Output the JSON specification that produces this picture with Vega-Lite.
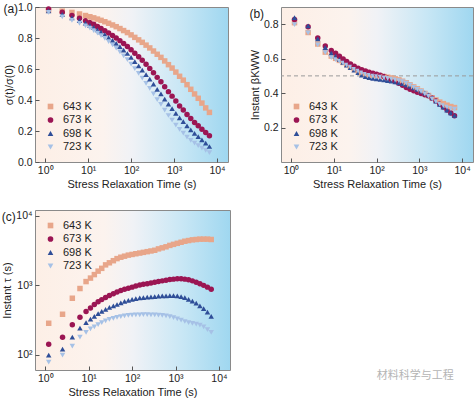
{
  "$schema": "https://vega.github.io/schema/vega-lite/v6.json",
  "padding": {"left": 1, "top": 1, "right": 0, "bottom": 0},
  "datasets": {
    "relax": [
      {"t": 1.2, "643 K": 0.98, "673 K": 0.987, "698 K": 0.975, "723 K": 0.966},
      {"t": 2.5, "643 K": 0.973, "673 K": 0.966, "698 K": 0.952, "723 K": 0.936},
      {"t": 4.2, "643 K": 0.965, "673 K": 0.946, "698 K": 0.93, "723 K": 0.914},
      {"t": 6.3, "643 K": 0.955, "673 K": 0.928, "698 K": 0.912, "723 K": 0.895},
      {"t": 8.7, "643 K": 0.945, "673 K": 0.912, "698 K": 0.896, "723 K": 0.878},
      {"t": 11, "643 K": 0.937, "673 K": 0.9, "698 K": 0.882, "723 K": 0.864},
      {"t": 13.5, "643 K": 0.93, "673 K": 0.888, "698 K": 0.868, "723 K": 0.848},
      {"t": 16.5, "643 K": 0.922, "673 K": 0.875, "698 K": 0.853, "723 K": 0.832},
      {"t": 20, "643 K": 0.914, "673 K": 0.862, "698 K": 0.838, "723 K": 0.816},
      {"t": 24.5, "643 K": 0.905, "673 K": 0.847, "698 K": 0.821, "723 K": 0.797},
      {"t": 30, "643 K": 0.895, "673 K": 0.832, "698 K": 0.803, "723 K": 0.777},
      {"t": 37, "643 K": 0.884, "673 K": 0.816, "698 K": 0.784, "723 K": 0.755},
      {"t": 45, "643 K": 0.873, "673 K": 0.8, "698 K": 0.765, "723 K": 0.734},
      {"t": 55, "643 K": 0.861, "673 K": 0.783, "698 K": 0.744, "723 K": 0.71},
      {"t": 67, "643 K": 0.848, "673 K": 0.764, "698 K": 0.722, "723 K": 0.685},
      {"t": 82, "643 K": 0.835, "673 K": 0.745, "698 K": 0.7, "723 K": 0.66},
      {"t": 100, "643 K": 0.82, "673 K": 0.724, "698 K": 0.675, "723 K": 0.632},
      {"t": 122, "643 K": 0.804, "673 K": 0.702, "698 K": 0.648, "723 K": 0.602},
      {"t": 150, "643 K": 0.788, "673 K": 0.679, "698 K": 0.62, "723 K": 0.571},
      {"t": 182, "643 K": 0.772, "673 K": 0.656, "698 K": 0.593, "723 K": 0.541},
      {"t": 223, "643 K": 0.754, "673 K": 0.63, "698 K": 0.563, "723 K": 0.507},
      {"t": 272, "643 K": 0.736, "673 K": 0.604, "698 K": 0.534, "723 K": 0.475},
      {"t": 332, "643 K": 0.716, "673 K": 0.576, "698 K": 0.502, "723 K": 0.44},
      {"t": 405, "643 K": 0.695, "673 K": 0.546, "698 K": 0.469, "723 K": 0.403},
      {"t": 495, "643 K": 0.675, "673 K": 0.518, "698 K": 0.44, "723 K": 0.371},
      {"t": 605, "643 K": 0.652, "673 K": 0.486, "698 K": 0.406, "723 K": 0.335},
      {"t": 740, "643 K": 0.628, "673 K": 0.454, "698 K": 0.373, "723 K": 0.3},
      {"t": 900, "643 K": 0.606, "673 K": 0.425, "698 K": 0.345, "723 K": 0.27},
      {"t": 1100, "643 K": 0.58, "673 K": 0.393, "698 K": 0.314, "723 K": 0.238},
      {"t": 1345, "643 K": 0.553, "673 K": 0.362, "698 K": 0.285, "723 K": 0.21},
      {"t": 1640, "643 K": 0.528, "673 K": 0.336, "698 K": 0.26, "723 K": 0.186},
      {"t": 2000, "643 K": 0.499, "673 K": 0.307, "698 K": 0.233, "723 K": 0.161},
      {"t": 2450, "643 K": 0.469, "673 K": 0.28, "698 K": 0.208, "723 K": 0.14},
      {"t": 3000, "643 K": 0.439, "673 K": 0.255, "698 K": 0.184, "723 K": 0.121},
      {"t": 3650, "643 K": 0.411, "673 K": 0.234, "698 K": 0.163, "723 K": 0.105},
      {"t": 4450, "643 K": 0.38, "673 K": 0.212, "698 K": 0.142, "723 K": 0.089},
      {"t": 5450, "643 K": 0.349, "673 K": 0.19, "698 K": 0.122, "723 K": 0.075},
      {"t": 6650, "643 K": 0.32, "673 K": 0.17, "698 K": 0.1, "723 K": 0.06}
    ],
    "beta": [
      {"t": 1.2, "643 K": 0.809, "673 K": 0.827, "698 K": 0.839, "723 K": 0.797},
      {"t": 2.5, "643 K": 0.752, "673 K": 0.785, "698 K": 0.79, "723 K": 0.75},
      {"t": 4.2, "643 K": 0.685, "673 K": 0.72, "698 K": 0.715, "723 K": 0.68},
      {"t": 6.3, "643 K": 0.638, "673 K": 0.674, "698 K": 0.664, "723 K": 0.635},
      {"t": 8.7, "643 K": 0.615, "673 K": 0.648, "698 K": 0.632, "723 K": 0.606},
      {"t": 11, "643 K": 0.602, "673 K": 0.632, "698 K": 0.615, "723 K": 0.594},
      {"t": 13.5, "643 K": 0.59, "673 K": 0.614, "698 K": 0.596, "723 K": 0.585},
      {"t": 16.5, "643 K": 0.578, "673 K": 0.598, "698 K": 0.578, "723 K": 0.574},
      {"t": 20, "643 K": 0.566, "673 K": 0.583, "698 K": 0.563, "723 K": 0.563},
      {"t": 24.5, "643 K": 0.553, "673 K": 0.569, "698 K": 0.548, "723 K": 0.551},
      {"t": 30, "643 K": 0.541, "673 K": 0.556, "698 K": 0.534, "723 K": 0.538},
      {"t": 37, "643 K": 0.53, "673 K": 0.545, "698 K": 0.519, "723 K": 0.527},
      {"t": 45, "643 K": 0.52, "673 K": 0.536, "698 K": 0.505, "723 K": 0.517},
      {"t": 55, "643 K": 0.513, "673 K": 0.528, "698 K": 0.496, "723 K": 0.509},
      {"t": 67, "643 K": 0.508, "673 K": 0.521, "698 K": 0.49, "723 K": 0.503},
      {"t": 82, "643 K": 0.505, "673 K": 0.515, "698 K": 0.486, "723 K": 0.499},
      {"t": 100, "643 K": 0.503, "673 K": 0.51, "698 K": 0.483, "723 K": 0.496},
      {"t": 122, "643 K": 0.5, "673 K": 0.504, "698 K": 0.48, "723 K": 0.493},
      {"t": 150, "643 K": 0.496, "673 K": 0.496, "698 K": 0.477, "723 K": 0.489},
      {"t": 182, "643 K": 0.492, "673 K": 0.487, "698 K": 0.473, "723 K": 0.485},
      {"t": 223, "643 K": 0.488, "673 K": 0.478, "698 K": 0.469, "723 K": 0.481},
      {"t": 272, "643 K": 0.483, "673 K": 0.468, "698 K": 0.465, "723 K": 0.477},
      {"t": 332, "643 K": 0.477, "673 K": 0.457, "698 K": 0.46, "723 K": 0.472},
      {"t": 405, "643 K": 0.469, "673 K": 0.445, "698 K": 0.455, "723 K": 0.466},
      {"t": 495, "643 K": 0.46, "673 K": 0.433, "698 K": 0.448, "723 K": 0.458},
      {"t": 605, "643 K": 0.448, "673 K": 0.422, "698 K": 0.44, "723 K": 0.447},
      {"t": 740, "643 K": 0.436, "673 K": 0.413, "698 K": 0.431, "723 K": 0.434},
      {"t": 900, "643 K": 0.425, "673 K": 0.405, "698 K": 0.422, "723 K": 0.422},
      {"t": 1100, "643 K": 0.412, "673 K": 0.398, "698 K": 0.412, "723 K": 0.41},
      {"t": 1345, "643 K": 0.398, "673 K": 0.391, "698 K": 0.401, "723 K": 0.396},
      {"t": 1640, "643 K": 0.386, "673 K": 0.384, "698 K": 0.39, "723 K": 0.382},
      {"t": 2000, "643 K": 0.373, "673 K": 0.37, "698 K": 0.373, "723 K": 0.366},
      {"t": 2450, "643 K": 0.36, "673 K": 0.354, "698 K": 0.354, "723 K": 0.35},
      {"t": 3000, "643 K": 0.348, "673 K": 0.337, "698 K": 0.335, "723 K": 0.336},
      {"t": 3650, "643 K": 0.339, "673 K": 0.32, "698 K": 0.318, "723 K": 0.327},
      {"t": 4450, "643 K": 0.33, "673 K": 0.302, "698 K": 0.301, "723 K": 0.319},
      {"t": 5450, "643 K": 0.322, "673 K": 0.285, "698 K": 0.285, "723 K": 0.312},
      {"t": 6650, "643 K": 0.316, "673 K": 0.268, "698 K": 0.27, "723 K": 0.307}
    ],
    "tau": [
      {"t": 1.2, "643 K": 282, "673 K": 141, "698 K": 98, "723 K": 78},
      {"t": 2.5, "643 K": 380, "673 K": 178, "698 K": 120, "723 K": 98},
      {"t": 4.2, "643 K": 646, "673 K": 269, "698 K": 178, "723 K": 132},
      {"t": 6.3, "643 K": 891, "673 K": 343, "698 K": 240, "723 K": 178},
      {"t": 8.7, "643 K": 1122, "673 K": 417, "698 K": 288, "723 K": 209},
      {"t": 11, "643 K": 1259, "673 K": 468, "698 K": 324, "723 K": 234},
      {"t": 13.5, "643 K": 1413, "673 K": 525, "698 K": 355, "723 K": 251},
      {"t": 16.5, "643 K": 1585, "673 K": 575, "698 K": 389, "723 K": 269},
      {"t": 20, "643 K": 1738, "673 K": 617, "698 K": 417, "723 K": 288},
      {"t": 24.5, "643 K": 1950, "673 K": 661, "698 K": 447, "723 K": 305},
      {"t": 30, "643 K": 2089, "673 K": 708, "698 K": 479, "723 K": 320},
      {"t": 37, "643 K": 2239, "673 K": 750, "698 K": 501, "723 K": 331},
      {"t": 45, "643 K": 2399, "673 K": 794, "698 K": 525, "723 K": 343},
      {"t": 55, "643 K": 2512, "673 K": 832, "698 K": 556, "723 K": 351},
      {"t": 67, "643 K": 2600, "673 K": 871, "698 K": 582, "723 K": 359},
      {"t": 82, "643 K": 2692, "673 K": 902, "698 K": 603, "723 K": 365},
      {"t": 100, "643 K": 2754, "673 K": 933, "698 K": 624, "723 K": 369},
      {"t": 122, "643 K": 2818, "673 K": 966, "698 K": 638, "723 K": 372},
      {"t": 150, "643 K": 2884, "673 K": 1000, "698 K": 653, "723 K": 373},
      {"t": 182, "643 K": 2951, "673 K": 1023, "698 K": 661, "723 K": 374},
      {"t": 223, "643 K": 3020, "673 K": 1047, "698 K": 668, "723 K": 374},
      {"t": 272, "643 K": 3090, "673 K": 1072, "698 K": 676, "723 K": 373},
      {"t": 332, "643 K": 3162, "673 K": 1096, "698 K": 684, "723 K": 372},
      {"t": 405, "643 K": 3311, "673 K": 1122, "698 K": 692, "723 K": 369},
      {"t": 495, "643 K": 3428, "673 K": 1148, "698 K": 697, "723 K": 366},
      {"t": 605, "643 K": 3548, "673 K": 1175, "698 K": 701, "723 K": 359},
      {"t": 740, "643 K": 3715, "673 K": 1202, "698 K": 705, "723 K": 351},
      {"t": 900, "643 K": 3846, "673 K": 1216, "698 K": 703, "723 K": 339},
      {"t": 1100, "643 K": 3981, "673 K": 1230, "698 K": 697, "723 K": 327},
      {"t": 1345, "643 K": 4121, "673 K": 1230, "698 K": 684, "723 K": 313},
      {"t": 1640, "643 K": 4266, "673 K": 1216, "698 K": 661, "723 K": 299},
      {"t": 2000, "643 K": 4365, "673 K": 1189, "698 K": 624, "723 K": 288},
      {"t": 2450, "643 K": 4467, "673 K": 1148, "698 K": 589, "723 K": 282},
      {"t": 3000, "643 K": 4519, "673 K": 1096, "698 K": 550, "723 K": 275},
      {"t": 3650, "643 K": 4571, "673 K": 1047, "698 K": 501, "723 K": 266},
      {"t": 4450, "643 K": 4571, "673 K": 989, "698 K": 457, "723 K": 251},
      {"t": 5450, "643 K": 4571, "673 K": 933, "698 K": 407, "723 K": 229},
      {"t": 6650, "643 K": 4519, "673 K": 871, "698 K": 355, "723 K": 209}
    ]
  },
  "columns": 2,
  "spacing": {"column": 17, "row": 19},
  "concat": [
    {
      "width": 193,
      "height": 155,
      "data": {"name": "relax"},
      "title": {"text": "(a)", "offset": -14},
      "view": {"fill": {"gradient": "linear", "x1": 0, "y1": 0, "x2": 1, "y2": 0, "stops": [{"offset": 0, "color": "#fdefe6"}, {"offset": 0.35, "color": "#fcf3ee"}, {"offset": 0.5, "color": "#f0f2f6"}, {"offset": 0.75, "color": "#c9e7f5"}, {"offset": 1, "color": "#9fd7f0"}]}},
      "transform": [{"fold": ["643 K", "673 K", "698 K", "723 K"], "as": ["series", "value"]}],
      "mark": {"type": "point", "filled": true, "opacity": 1, "size": 30},
      "encoding": {
        "x": {"field": "t", "type": "quantitative", "scale": {"type": "log", "domain": [0.58, 18000], "nice": false}, "axis": {"title": "Stress Relaxation Time (s)", "values": [1, 10, 100, 1000, 10000], "labelExpr": "datum.value === 1 ? '10⁰' : datum.value === 10 ? '10¹' : datum.value === 100 ? '10²' : datum.value === 1000 ? '10³' : '10⁴'"}},
        "y": {"field": "value", "type": "quantitative", "scale": {"domain": [0, 1], "nice": false}, "axis": {"title": "σ(t)/σ(0)", "values": [0, 0.2, 0.4, 0.6, 0.8, 1], "format": ".1f"}},
        "color": {"field": "series", "type": "nominal", "scale": {"domain": ["643 K", "673 K", "698 K", "723 K"], "range": ["#e8a68a", "#9b1553", "#2f4e98", "#a6c1e6"]}, "legend": {"orient": "bottom-left", "title": null}},
        "shape": {"field": "series", "type": "nominal", "scale": {"domain": ["643 K", "673 K", "698 K", "723 K"], "range": ["square", "circle", "triangle-up", "triangle-down"]}, "legend": {"orient": "bottom-left", "title": null}}
      }
    },
    {
      "width": 192,
      "height": 155,
      "title": {"text": "(b)", "offset": -14},
      "view": {"fill": {"gradient": "linear", "x1": 0, "y1": 0, "x2": 1, "y2": 0, "stops": [{"offset": 0, "color": "#fdefe6"}, {"offset": 0.35, "color": "#fcf3ee"}, {"offset": 0.5, "color": "#f0f2f6"}, {"offset": 0.75, "color": "#c9e7f5"}, {"offset": 1, "color": "#9fd7f0"}]}},
      "layer": [
        {
          "data": {"values": [{}]},
          "mark": {"type": "rule", "color": "#9a9a9a", "strokeDash": [4, 3], "strokeWidth": 1},
          "encoding": {"y": {"datum": 0.5}}
        },
        {
          "data": {"name": "beta"},
          "transform": [{"fold": ["643 K", "673 K", "698 K", "723 K"], "as": ["series", "value"]}],
          "mark": {"type": "point", "filled": true, "opacity": 1, "size": 30},
          "encoding": {
            "x": {"field": "t", "type": "quantitative", "scale": {"type": "log", "domain": [0.58, 18000], "nice": false}, "axis": {"title": "Stress Relaxation Time (s)", "values": [1, 10, 100, 1000, 10000], "labelExpr": "datum.value === 1 ? '10⁰' : datum.value === 10 ? '10¹' : datum.value === 100 ? '10²' : datum.value === 1000 ? '10³' : '10⁴'"}},
            "y": {"field": "value", "type": "quantitative", "scale": {"domain": [0.2, 0.9], "nice": false}, "axis": {"title": "Instant βKWW", "values": [0.2, 0.4, 0.6, 0.8], "format": ".1f"}},
            "color": {"field": "series", "type": "nominal", "scale": {"domain": ["643 K", "673 K", "698 K", "723 K"], "range": ["#e8a68a", "#9b1553", "#2f4e98", "#a6c1e6"]}, "legend": {"orient": "bottom-left", "title": null}},
            "shape": {"field": "series", "type": "nominal", "scale": {"domain": ["643 K", "673 K", "698 K", "723 K"], "range": ["square", "circle", "triangle-up", "triangle-down"]}, "legend": {"orient": "bottom-left", "title": null}}
          }
        }
      ]
    },
    {
      "width": 195,
      "height": 160,
      "data": {"name": "tau"},
      "title": {"text": "(c)", "offset": -14},
      "view": {"fill": {"gradient": "linear", "x1": 0, "y1": 0, "x2": 1, "y2": 0, "stops": [{"offset": 0, "color": "#fdefe6"}, {"offset": 0.35, "color": "#fcf3ee"}, {"offset": 0.5, "color": "#f0f2f6"}, {"offset": 0.75, "color": "#c9e7f5"}, {"offset": 1, "color": "#9fd7f0"}]}},
      "transform": [{"fold": ["643 K", "673 K", "698 K", "723 K"], "as": ["series", "value"]}],
      "mark": {"type": "point", "filled": true, "opacity": 1, "size": 30},
      "encoding": {
        "x": {"field": "t", "type": "quantitative", "scale": {"type": "log", "domain": [0.58, 18000], "nice": false}, "axis": {"title": "Stress Relaxation Time (s)", "values": [1, 10, 100, 1000, 10000], "labelExpr": "datum.value === 1 ? '10⁰' : datum.value === 10 ? '10¹' : datum.value === 100 ? '10²' : datum.value === 1000 ? '10³' : '10⁴'"}},
        "y": {"field": "value", "type": "quantitative", "scale": {"type": "log", "domain": [60, 12000], "nice": false}, "axis": {"title": "Instant τ (s)", "values": [100, 1000, 10000], "labelExpr": "datum.value === 100 ? '10²' : datum.value === 1000 ? '10³' : '10⁴'"}},
        "color": {"field": "series", "type": "nominal", "scale": {"domain": ["643 K", "673 K", "698 K", "723 K"], "range": ["#e8a68a", "#9b1553", "#2f4e98", "#a6c1e6"]}, "legend": {"orient": "top-left", "title": null}},
        "shape": {"field": "series", "type": "nominal", "scale": {"domain": ["643 K", "673 K", "698 K", "723 K"], "range": ["square", "circle", "triangle-up", "triangle-down"]}, "legend": {"orient": "top-left", "title": null}}
      }
    },
    {
      "width": 192,
      "height": 160,
      "data": {"values": [{"label": "材料科学与工程"}]},
      "view": {"stroke": null, "fill": null},
      "mark": {"type": "text", "align": "right", "baseline": "top", "color": "#b4b4b4", "fontSize": 11, "font": "Noto Sans CJK SC"},
      "encoding": {
        "text": {"field": "label"},
        "x": {"datum": 0.9, "type": "quantitative", "scale": {"domain": [0, 1]}, "axis": null},
        "y": {"datum": 0, "type": "quantitative", "scale": {"domain": [0, 1]}, "axis": null}
      }
    }
  ],
  "resolve": {
    "scale": {"x": "independent", "y": "independent", "color": "independent", "shape": "independent"},
    "legend": {"color": "independent", "shape": "independent"}
  },
  "config": {
    "font": "Liberation Sans",
    "view": {"stroke": "#8a8a8a", "strokeWidth": 1},
    "axis": {"domain": false, "grid": false, "labelFontSize": 10.5, "titleFontSize": 11, "titleFontWeight": "normal", "labelColor": "#222222", "titleColor": "#222222", "tickColor": "#555555", "tickSize": -4, "labelPadding": 7, "titlePadding": 3},
    "legend": {"labelFontSize": 11, "labelColor": "#222222", "symbolSize": 32, "rowPadding": 1.5, "padding": 0, "labelOffset": 7, "offset": 10, "symbolStrokeWidth": 0},
    "title": {"fontSize": 12, "fontWeight": "normal", "anchor": "start", "frame": "bounds", "color": "#222222"}
  }
}
